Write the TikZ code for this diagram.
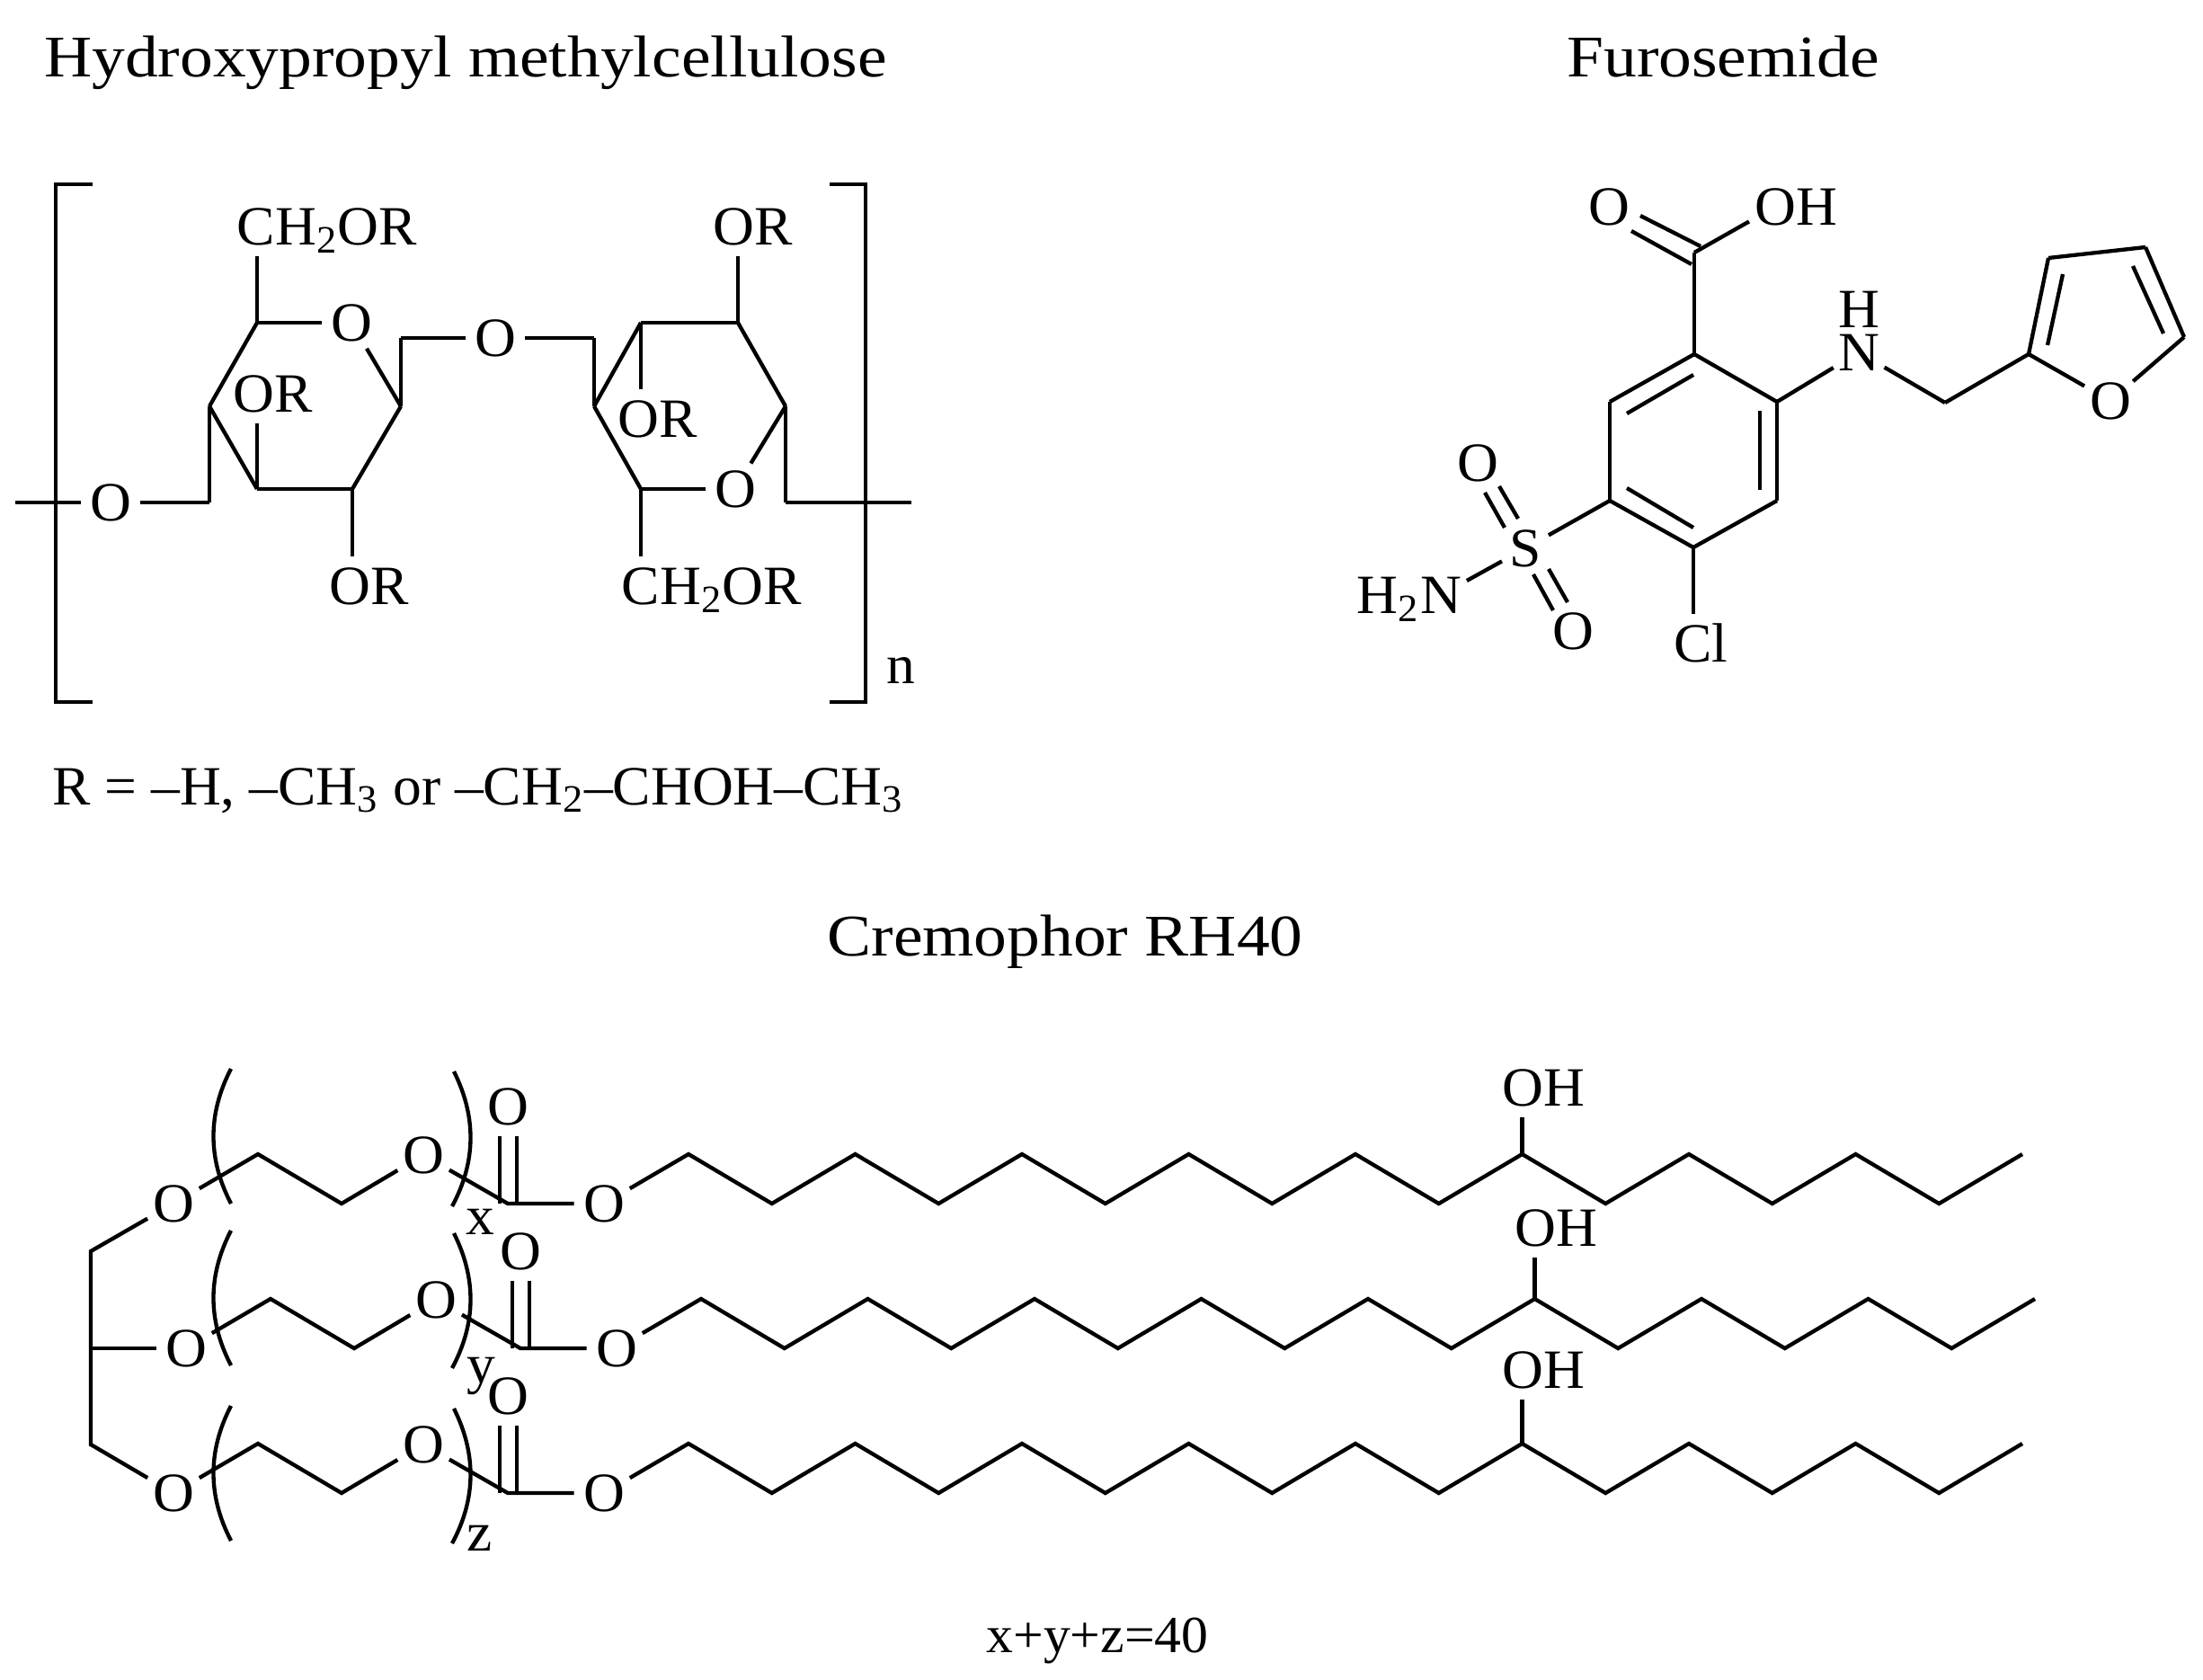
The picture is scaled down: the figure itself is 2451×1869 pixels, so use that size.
\documentclass[tikz,border=0pt]{standalone}
\usepackage{fontspec}
\setmainfont[FakeStretch=1.03]{Liberation Serif}
\newfontfamily\titleFamily[FakeStretch=1.12]{Liberation Serif}
\newcommand{\chemFont}{\fontsize{18.5}{20}\selectfont}
\newcommand{\titleFont}{\titleFamily\fontsize{19.7}{22}\selectfont}
\tikzset{
  bondLine/.style={-,line width=1.3pt},
  atomLabel/.style={shape=circle,inner sep=.4pt,font=\chemFont},
  groupLabel/.style={inner sep=3.6pt,text height=12.4pt,text depth=0pt,font=\chemFont},
  plainLabel/.style={inner sep=0pt,anchor=base,font=\chemFont},
  titleLabel/.style={inner sep=0pt,anchor=base,font=\titleFont}
}
\begin{document}
\begin{tikzpicture}[x=.3pt,y=-.3pt]
\useasboundingbox (0,0) rectangle (2451,1869);
%% titles
\node[titleLabel] (titleHpmc) at (518,86) {Hydroxypropyl methylcellulose};
\node[titleLabel] (titleFuro) at (1917,86) {Furosemide};
\node[titleLabel] (titleCrem) at (1185,1063) {Cremophor RH40};
\node[plainLabel,font=\fontsize{17.4}{20}\selectfont] (sumNote) at (1221,1838) {x+y+z=40};
\node[plainLabel] (rNote) at (532,895) {R = –H, –CH\textsubscript{3} or –CH\textsubscript{2}–CHOH–CH\textsubscript{3}};
%% hydroxypropyl methylcellulose: carbons and free ends
\foreach \nodename/\x/\y in {
  stubL/17/559, cornerL/233/559, a1/233/452, a2/286/359, a3/446/452, a4/392/544, a5/286/544,
  cornerM/446/376, cornerN/661/376, b1/661/452, b2/713/359, b3/821/359, b4/874/452, b5/713/544,
  cornerR/874/559, stubR/1014/559,
  brackLa/103/205, brackLb/62/205, brackLc/62/781, brackLd/103/781,
  brackRa/923/205, brackRb/963/205, brackRc/963/781, brackRd/923/781}
{
  \coordinate (\nodename) at (\x,\y);
}
\foreach \nodename/\x/\y in {oxyL/123/559, oxyA/391/359, oxyM/551/376, oxyB/818/544}
{
  \node[atomLabel] (\nodename) at (\x,\y) {O};
}
\foreach \nodename/\x/\y in {orA/304/438, orB/411/652, orC/838/252, orD/732/466}
{
  \node[groupLabel] (\nodename) at (\x,\y) {OR};
}
\node[groupLabel] (chA) at (364,252) {CH\textsubscript{2}OR};
\node[groupLabel] (chB) at (792,652) {CH\textsubscript{2}OR};
\node[plainLabel] (repeatN) at (1002,760) {n};
\path
\foreach \startnode/\endnode in {
  stubL/oxyL, oxyL/cornerL, cornerL/a1, a1/a2, a2/oxyA, oxyA/a3, a3/a4, a4/a5, a5/a1,
  a3/cornerM, cornerM/oxyM, oxyM/cornerN, cornerN/b1, b1/b2, b2/b3, b3/b4, b4/oxyB,
  oxyB/b5, b5/b1, b4/cornerR, cornerR/stubR}
{
  (\startnode) edge[bondLine] (\endnode)
};
\draw[bondLine] (a2) -- (a2 |- chA.south);
\draw[bondLine] (a5) -- (a5 |- orA.south);
\draw[bondLine] (a4) -- (a4 |- orB.north);
\draw[bondLine] (b3) -- (b3 |- orC.south);
\draw[bondLine] (b2) -- (b2 |- orD.north);
\draw[bondLine] (b5) -- (b5 |- chB.north);
\draw[bondLine] (brackLa) -- (brackLb) -- (brackLc) -- (brackLd);
\draw[bondLine] (brackRa) -- (brackRb) -- (brackRc) -- (brackRd);
%% furosemide
\foreach \nodename/\x/\y in {
  acid/1885/281, r1/1885/394, r2/1977/447, r3/1977/557, r4/1884/609, r5/1791/557, r6/1791/447,
  in1a/1810/460, in1b/1884/417, in2a/1958/457, in2b/1958/545, in3a/1810/543, in3b/1884/587,
  dblAa/1825/240, dblAb/1892/274, dblBa/1815/257, dblBb/1882/294,
  methyl/2164/448, f2/2257/394, f3/2279/287, f4/2387/275, f5/2430/375,
  in4a/2278/384, in4b/2295/305, in5a/2373/296, in5b/2407/371,
  dblCa/1668/541, dblCb/1689/577, dblDa/1652/548, dblDb/1674/587,
  dblEa/1723/633, dblEb/1744/670, dblFa/1706/639, dblFb/1728/679}
{
  \coordinate (\nodename) at (\x,\y);
}
\foreach \nodename/\x/\y/\txt in {
  oxyAcid/1790/230/O, oxyHyd/1975/230/O, nitro/2068/392/N, oxyFur/2348/446/O,
  sulfur/1697/610/S, oxySa/1644/515/O, oxySb/1750/702/O, nitroS/1603/662/N}
{
  \node[atomLabel] (\nodename) at (\x,\y) {\txt};
}
\node[plainLabel] (hydAcid) at ([xshift=13.8pt,yshift=-6.2pt]oxyHyd) {H};
\node[plainLabel] (hydNitro) at ([yshift=8.2pt]nitro) {H};
\node[plainLabel,anchor=base east] (hydS) at ([xshift=-6.8pt,yshift=-6.2pt]nitroS) {H\textsubscript{2}};
\node[groupLabel] (chlor) at (1892,716) {Cl};
\path
\foreach \startnode/\endnode in {
  acid/r1, acid/oxyHyd, r1/r2, r2/r3, r3/r4, r4/r5, r5/r6, r6/r1,
  in1a/in1b, in2a/in2b, in3a/in3b, dblAa/dblAb, dblBa/dblBb,
  r2/nitro, nitro/methyl, methyl/f2, f2/f3, f3/f4, f4/f5, f5/oxyFur, oxyFur/f2,
  in4a/in4b, in5a/in5b, r5/sulfur, sulfur/nitroS,
  dblCa/dblCb, dblDa/dblDb, dblEa/dblEb, dblFa/dblFb}
{
  (\startnode) edge[bondLine] (\endnode)
};
\draw[bondLine] (r4) -- (r4 |- chlor.north);
%% cremophor chains
\foreach \chain/\dx/\dy/\lift in {A/0/0/1210, B/14/161/1205, C/0/322/1202}
{
  \begin{scope}[shift={(\dx,\dy)}]
    \foreach \nodename/\x/\y in {
      peg1\chain/287/1284, peg2\chain/380/1339, ester\chain/565/1339,
      dblG\chain/556/1264, dblH\chain/556/1339, dblJ\chain/575/1264, dblK\chain/575/1339}
    {
      \coordinate (\nodename) at (\x,\y);
    }
    \foreach \nodename/\x/\y in {
      oxyP\chain/193/1339, oxyQ\chain/471/1285, oxyT\chain/565/1231, oxyE\chain/672/1339}
    {
      \node[atomLabel] (\nodename) at (\x,\y) {O};
    }
    \foreach \i in {0,...,16}
    {
      \pgfmathsetmacro{\yy}{isodd(\i) ? 1339 : 1284}
      \coordinate (z\chain\i) at (766+92.75*\i,\yy);
    }
    \node[groupLabel] (hydroxy\chain) at (1717,\lift) {OH};
    \draw[bondLine] (oxyP\chain) -- (peg1\chain) -- (peg2\chain) -- (oxyQ\chain) -- (ester\chain) -- (oxyE\chain);
    \draw[bondLine] (dblG\chain) -- (dblH\chain);
    \draw[bondLine] (dblJ\chain) -- (dblK\chain);
    \draw[bondLine] (oxyE\chain) -- (z\chain0) \foreach \i in {1,...,16} {-- (z\chain\i)};
    \draw[bondLine] (z\chain10) -- (z\chain10 |- hydroxy\chain.south);
  \end{scope}
}
%% brackets of the repeat units
\foreach \chain/\y in {A/1189, B/1369, C/1564}
{
  \coordinate (parLa\chain) at (257,\y);
  \coordinate (parLb\chain) at (257,\y+150);
  \coordinate (parRa\chain) at (505,\y+3);
  \coordinate (parRb\chain) at (503,\y+153);
  \draw[bondLine] (parLa\chain) .. controls +(-26,50) and +(-26,-50) .. (parLb\chain);
  \draw[bondLine] (parRa\chain) .. controls +(25,50) and +(27,-50) .. (parRb\chain);
}
\node[plainLabel] (subX) at (534,1373) {x};
\node[plainLabel] (subY) at (535,1538) {y};
\node[plainLabel] (subZ) at (534,1725) {z};
%% glycerol backbone
\coordinate (glyA) at (101,1392);
\coordinate (glyB) at (101,1500);
\coordinate (glyC) at (101,1607);
\draw[bondLine] (oxyPA) -- (glyA) -- (glyC) -- (oxyPC);
\draw[bondLine] (glyB) -- (oxyPB);
\end{tikzpicture}
\end{document}
